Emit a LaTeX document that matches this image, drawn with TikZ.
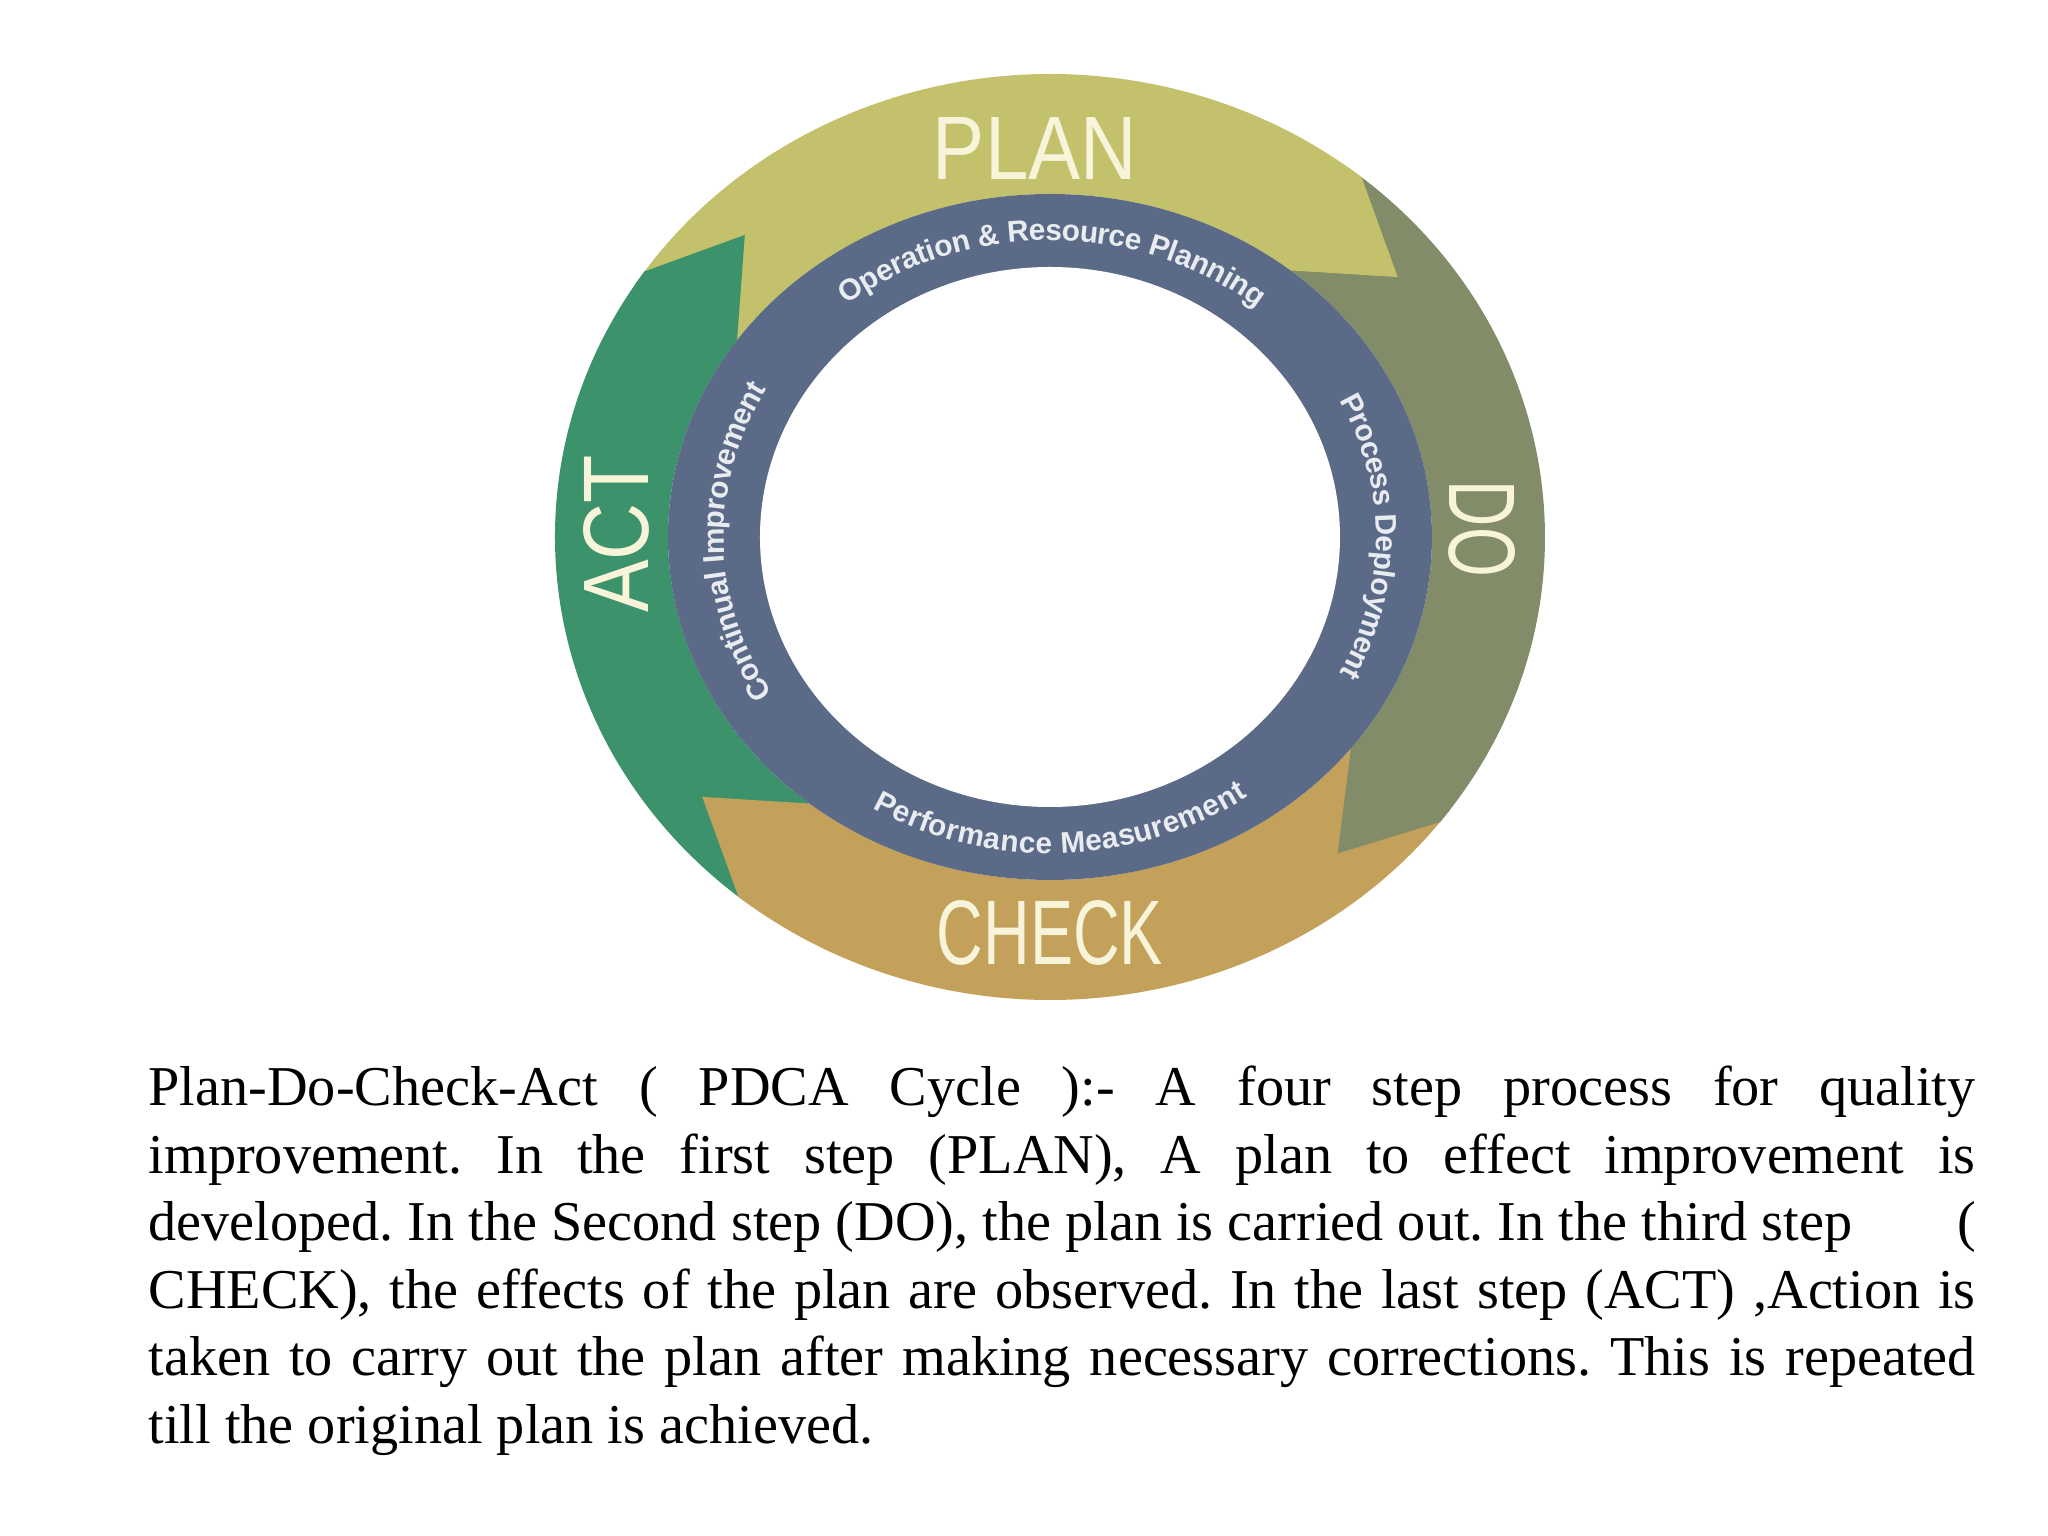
\documentclass[tikz,border=0pt]{standalone}
\usepackage{fontspec}
\setmainfont{Liberation Serif}
\setsansfont{Liberation Sans}
\usetikzlibrary{decorations.text}
\definecolor{pdcaplan}{HTML}{C3C16B}
\definecolor{pdcado}{HTML}{838C69}
\definecolor{pdcacheck}{HTML}{C4A15B}
\definecolor{pdcaact}{HTML}{3B926B}
\definecolor{pdcaring}{HTML}{5B6A87}
\definecolor{pdcacream}{HTML}{F7F4DA}
\definecolor{pdcaringtext}{HTML}{E8EBF0}
\newcommand{\ringfont}{\fontsize{8.5}{10}\selectfont\sffamily\bfseries}
\newcommand{\steplabel}[3]{\resizebox{#2}{#3}{\sffamily #1}}

\begin{document}
\begin{tikzpicture}[
    lbl/.style={inner sep=0pt, text=pdcacream},
    ringtxt/.style={decorate, decoration={text along path, text align=center, raise=-2.8pt, text color=pdcaringtext}}]
  \useasboundingbox (-10.50,-9.99) rectangle (9.98,5.37);
  % coloured bands between the ring (3.82 x 3.43) and the outer ellipse (4.95 x 4.63)
  \foreach \col/\angfrom/\angto in {pdcaplan/145/51, pdcado/51/-38, pdcacheck/322/231, pdcaact/231/145}
    \fill[\col] (\angfrom:4.95 and 4.63) arc[start angle=\angfrom, end angle=\angto, x radius=4.95, y radius=4.63]
      -- (\angto:3.82 and 3.43) arc[start angle=\angto, end angle=\angfrom, x radius=3.82, y radius=3.43] -- cycle;
  % arrow heads on top of the next band
  \foreach \col/\angto in {pdcaplan/51, pdcado/-38, pdcacheck/231, pdcaact/145}
    \fill[\col] (\angto+2:4.95 and 4.63) -- (\angto:4.95 and 4.63) -- (\angto-12:4.475 and 4.13)
      -- (\angto:3.82 and 3.43) -- (\angto+2:3.82 and 3.43) -- cycle;
  % inner ring
  \fill[pdcaring] (0,0) ellipse[x radius=3.82, y radius=3.43];
  \fill[white] (0,0) ellipse[x radius=2.90, y radius=2.70];
  \path[ringtxt, decoration={text={|\ringfont|Operation {\&} Resource Planning}}]
    (139.5:3.36 and 3.065) arc[start angle=139.5, end angle=39.5, x radius=3.36, y radius=3.065];
  \path[ringtxt, decoration={text={|\ringfont|Process Deployment}}]
    (45:3.36 and 3.065) arc[start angle=45, end angle=-45, x radius=3.36, y radius=3.065];
  \path[ringtxt, decoration={text={|\ringfont|Performance Measurement}}]
    (226:3.36 and 3.065) arc[start angle=226, end angle=318, x radius=3.36, y radius=3.065];
  \path[ringtxt, decoration={text={|\ringfont|Continual Improvement}}]
    (226:3.36 and 3.065) arc[start angle=226, end angle=136, x radius=3.36, y radius=3.065];
  % step names
  \node[lbl] (plan) at (-0.15,3.88) {\steplabel{PLAN}{2.04cm}{0.62cm}};
  \node[lbl, rotate=-90] (do) at (4.32,0.08) {\steplabel{DO}{0.96cm}{0.66cm}};
  \node[lbl] (check) at (0,-3.96) {\steplabel{CHECK}{2.26cm}{0.64cm}};
  \node[lbl, rotate=90] (act) at (-4.34,0.03) {\steplabel{ACT}{1.58cm}{0.65cm}};
  % caption
  \node[anchor=base west, inner sep=0pt, text width=18.27cm, align=justify, font=\fontsize{16}{19.2}\selectfont\frenchspacing] (caption) at (-9.02,-5.69)
    {Plan-Do-Check-Act ( PDCA Cycle ):- A four step process for quality\linebreak
     improvement. In the first step (PLAN), A plan to effect improvement is\linebreak
     developed. In the Second step (DO), the plan is carried out. In the third step\hfill(\linebreak
     CHECK), the effects of the plan are observed. In the last step (ACT) ,Action is\linebreak
     taken to carry out the plan after making necessary corrections. This is repeated\linebreak
     till the original plan is achieved.};
\end{tikzpicture}
\end{document}
